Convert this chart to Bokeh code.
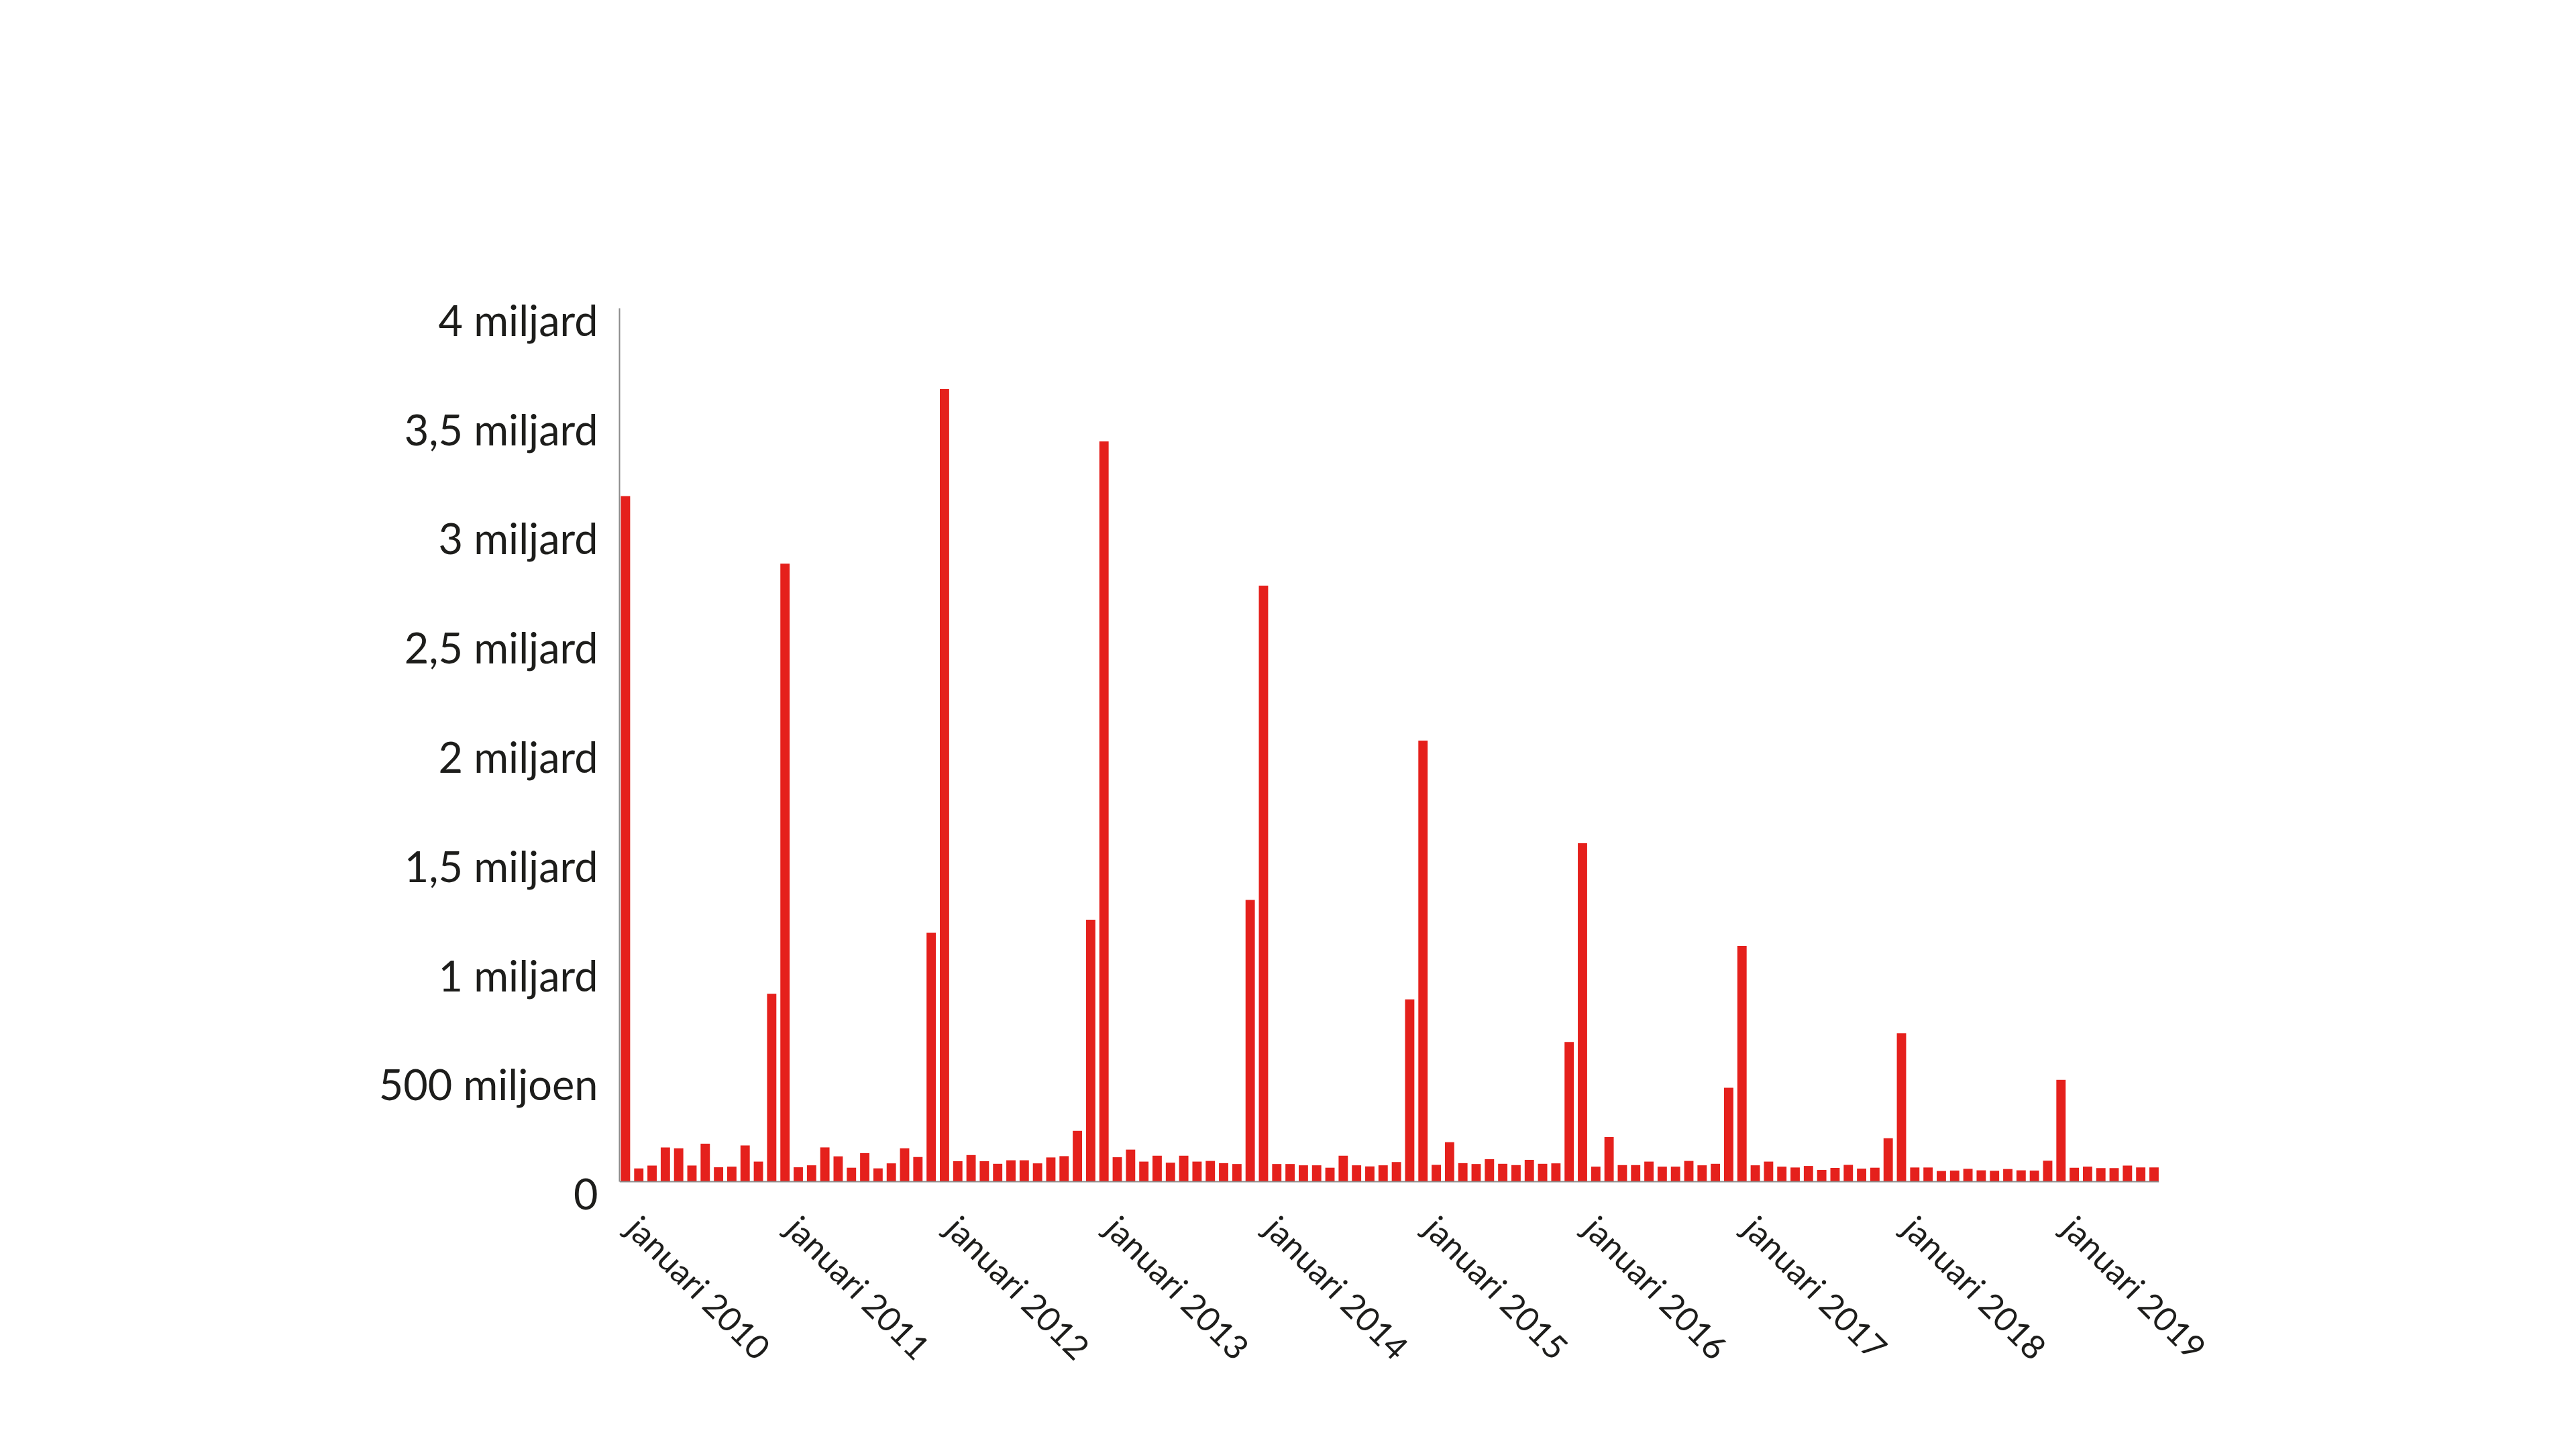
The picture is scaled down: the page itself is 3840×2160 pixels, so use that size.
import math
from bokeh.plotting import figure
from bokeh.models import Range1d, LinearAxis, FixedTicker, Label
from bokeh.embed import file_html
from bokeh.resources import INLINE

# ---- data (miljoen euro, per maand, januari 2010 t/m augustus 2019) ----
months = [f"{y}-{m:02d}" for y in range(2010, 2020) for m in range(1, 13)][:116]
rente = [
    3140, 61, 74, 157, 153, 74, 174, 66, 69, 166, 92, 860,
    2830, 66, 75, 157, 116, 64, 131, 61, 84, 153, 113, 1140,
    3630, 94, 122, 94, 82, 98, 98, 84, 111, 117, 233, 1200,
    3390, 112, 147, 92, 119, 87, 119, 92, 95, 85, 81, 1290,
    2730, 81, 81, 75, 75, 64, 119, 75, 70, 75, 90, 835,
    2020, 77, 181, 85, 81, 103, 82, 76, 100, 82, 84, 640,
    1550, 69, 204, 76, 76, 92, 69, 69, 95, 75, 82, 430,
    1080, 75, 92, 69, 65, 72, 54, 63, 77, 60, 64, 199,
    680, 65, 65, 49, 51, 59, 52, 50, 58, 52, 51, 96,
    466, 64, 69, 62, 62, 74, 65, 65,
]
y_ticks = [0, 500, 1000, 1500, 2000, 2500, 3000, 3500, 4000]
y_tick_labels = ["0", "500 miljoen", "1 miljard", "1,5 miljard", "2 miljard",
                 "2,5 miljard", "3 miljard", "3,5 miljard", "4 miljard"]
x_tick_years = [2010, 2011, 2012, 2013, 2014, 2015, 2016, 2017, 2018, 2019]

title_text = "bijgeschreven rente op spaargeld"
source_text = "cijfers: DNB"

RED = "#e5201c"
AXIS = "#8c8c8c"
INK = "#1d1d1b"
FONT = "Lato"

x = list(range(len(rente)))

p = figure(width=3824, height=2144, output_backend="svg", toolbar_location=None,
           x_range=Range1d(-0.45, 115.38), y_range=Range1d(-61.4, 4000),
           min_border_left=923, min_border_right=606,
           min_border_top=459, min_border_bottom=363,
           outline_line_color=None, background_fill_color="white",
           border_fill_color="white")
p.grid.visible = False

p.vbar(x=x, top=rente, width=0.7, bottom=0, fill_color=RED, line_color=None)
# baseline under the bars
p.hspan(y=[0], line_color=AXIS, line_width=2)

# y axis line (bounded to 0..4 miljard), no labels of its own
ya = p.yaxis[0]
ya.ticker = FixedTicker(ticks=[])
ya.bounds = (0, 4000)
ya.axis_line_color = AXIS
ya.axis_line_width = 2
ya.major_tick_line_color = None
ya.minor_tick_line_color = None
ya.major_tick_out = 0
ya.major_tick_in = 0
ya.major_label_standoff = 0

# y tick labels (set slightly below their ticks, as in the original)
shift = 52.2
lab_ticks = [t - shift for t in y_ticks]
yb = LinearAxis(ticker=FixedTicker(ticks=lab_ticks),
                major_label_overrides={lt: s for lt, s in zip(lab_ticks, y_tick_labels)})
yb.axis_line_color = None
yb.major_tick_line_color = None
yb.minor_tick_line_color = None
yb.major_tick_out = 0
yb.major_tick_in = 0
yb.major_label_standoff = 32
yb.major_label_text_font = FONT
yb.major_label_text_font_size = "63px"
yb.major_label_text_color = INK
p.add_layout(yb, "left")

# x axis: januari of each year
xa = p.xaxis[0]
x_ticks = [12 * (yr - 2010) + 0.6 for yr in x_tick_years]
xa.ticker = FixedTicker(ticks=x_ticks)
xa.major_label_overrides = {t: f"januari {yr}" for t, yr in zip(x_ticks, x_tick_years)}
xa.major_label_orientation = -math.pi / 4
xa.axis_line_color = None
xa.major_tick_line_color = None
xa.minor_tick_line_color = None
xa.major_tick_out = 0
xa.major_tick_in = 0
xa.major_label_standoff = 40
xa.major_label_text_font = FONT
xa.major_label_text_font_size = "50px"
xa.major_label_text_color = INK

# heading and source line
p.add_layout(Label(x=-17.87, y=4793, text=title_text, text_font=FONT,
                   text_font_size="102px", text_color=INK))
p.add_layout(Label(x=-17.87, y=-987, text=source_text, text_font=FONT,
                   text_font_size="40px", text_color=INK))

open("out.html", "w").write(file_html(p, INLINE))
